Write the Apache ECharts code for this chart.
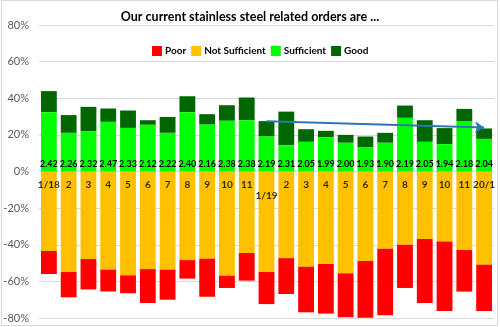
<!DOCTYPE html>
<html><head><meta charset="utf-8">
<script src="https://cdn.jsdelivr.net/npm/echarts@6/dist/echarts.min.js"></script>
<style>html,body{margin:0;padding:0;background:#fff}#c{width:500px;height:327px}</style>
</head><body><div id="c"></div>
<script>
var categories = ['1/18','2','3','4','5','6','7','8','9','10','11','1/19','2','3','4','5','6','7','8','9','10','11','20/1'];
var averages = ['2.42','2.26','2.32','2.47','2.33','2.12','2.22','2.40','2.16','2.38','2.38','2.19','2.31','2.05','1.99','2.00','1.93','1.90','2.19','2.05','1.94','2.18','2.04'];
var sufficient = [32.4,21.1,22.0,27.1,23.8,25.5,21.1,32.4,25.6,27.7,28.0,19.1,14.4,16.2,18.7,15.7,13.1,15.7,29.3,16.2,14.9,27.3,17.8];
var good = [11.5,9.7,13.3,7.3,9.5,2.5,8.7,8.7,5.7,8.5,12.4,8.4,18.3,6.9,3.5,4.3,6.0,5.4,6.7,11.8,8.8,6.9,5.7];
var notSufficient = [-43.4,-54.9,-47.8,-53.6,-56.7,-53.3,-53.6,-48.4,-47.6,-56.9,-44.5,-54.9,-47.3,-52.0,-50.5,-55.6,-48.9,-42.2,-40.0,-36.9,-38.2,-42.9,-50.9];
var poor = [-12.6,-13.8,-16.6,-11.9,-9.8,-18.5,-16.4,-10.1,-20.8,-6.7,-15.1,-17.5,-19.6,-24.9,-27.1,-24.0,-30.9,-36.3,-23.6,-34.9,-38.0,-22.7,-25.3];
var yTicks = {min: -80, max: 80, interval: 20};
var trendStart = [11, 27.5];
var trendEnd = [22, 24.0];
var lowLabelIndex = 11;

var FONT = 'Lato';
var chart = echarts.init(document.getElementById('c'), null, {renderer: 'canvas'});
var barBase = {type: 'bar', stack: 'total', barCategoryGap: '20%'};
chart.setOption({
  animation: false,
  backgroundColor: '#fff',
  textStyle: {fontFamily: FONT},
  title: {
    text: 'Our current stainless steel related orders are ...',
    left: 'center', top: 5,
    textStyle: {fontFamily: FONT, fontWeight: 'bold', fontSize: 12.5, color: '#000'}
  },
  legend: {
    top: 41, left: 147, icon: 'rect', itemWidth: 10, itemHeight: 10, itemGap: 5,
    data: ['Poor', 'Not Sufficient', 'Sufficient', 'Good'],
    textStyle: {fontFamily: FONT, fontWeight: 'bold', fontSize: 10, color: '#000', padding: [0, 0, 0, -2]}
  },
  grid: {left: 39, right: 6, top: 25, bottom: 9, containLabel: false, outerBoundsMode: 'none'},
  xAxis: {
    type: 'category', data: categories,
    axisLine: {show: false}, axisTick: {show: false}, axisLabel: {show: false}
  },
  yAxis: {
    type: 'value', min: yTicks.min, max: yTicks.max, interval: yTicks.interval,
    axisLine: {show: false}, axisTick: {show: false},
    axisLabel: {formatter: '{value}%', color: '#595959', fontFamily: FONT, fontSize: 11, margin: 10},
    splitLine: {lineStyle: {color: '#D9D9D9', width: 1}}
  },
  graphic: [{
    type: 'rect', shape: {x: 1.5, y: 0.5, width: 496, height: 325}, silent: true,
    style: {fill: 'none', stroke: '#D9D9D9', lineWidth: 1}
  }],
  series: [
    Object.assign({}, barBase, {
      name: 'Sufficient', data: sufficient, itemStyle: {color: '#00FF00'},
      label: {show: true, position: 'insideBottom', distance: 3, color: '#000', fontFamily: FONT,
        fontWeight: 'bold', fontSize: 9, formatter: function (p) { return averages[p.dataIndex]; }},
      z: 3
    }),
    Object.assign({}, barBase, {
      name: 'Good', data: good, itemStyle: {color: '#006600'},
      markLine: {
        silent: true, symbol: ['none', 'arrow'], symbolSize: [9, 9],
        lineStyle: {color: '#2E75B6', width: 2, type: 'solid'}, label: {show: false},
        data: [[{coord: trendStart}, {coord: trendEnd}]]
      }
    }),
    Object.assign({}, barBase, {name: 'Not Sufficient', data: notSufficient, itemStyle: {color: '#FFC000'}}),
    Object.assign({}, barBase, {name: 'Poor', data: poor, itemStyle: {color: '#FF0000'}}),
    {
      type: 'scatter', name: 'categoryLabels', silent: true, symbolSize: 0, z: 10,
      data: categories.map(function (c, i) {
        return {value: [i, 0], name: c, label: {distance: i === lowLabelIndex ? 19 : 8}};
      }),
      label: {show: true, position: 'bottom', color: '#000', fontFamily: FONT, fontWeight: 'bold', fontSize: 10,
        formatter: function (p) { return p.name; }}
    }
  ]
});
</script></body></html>
